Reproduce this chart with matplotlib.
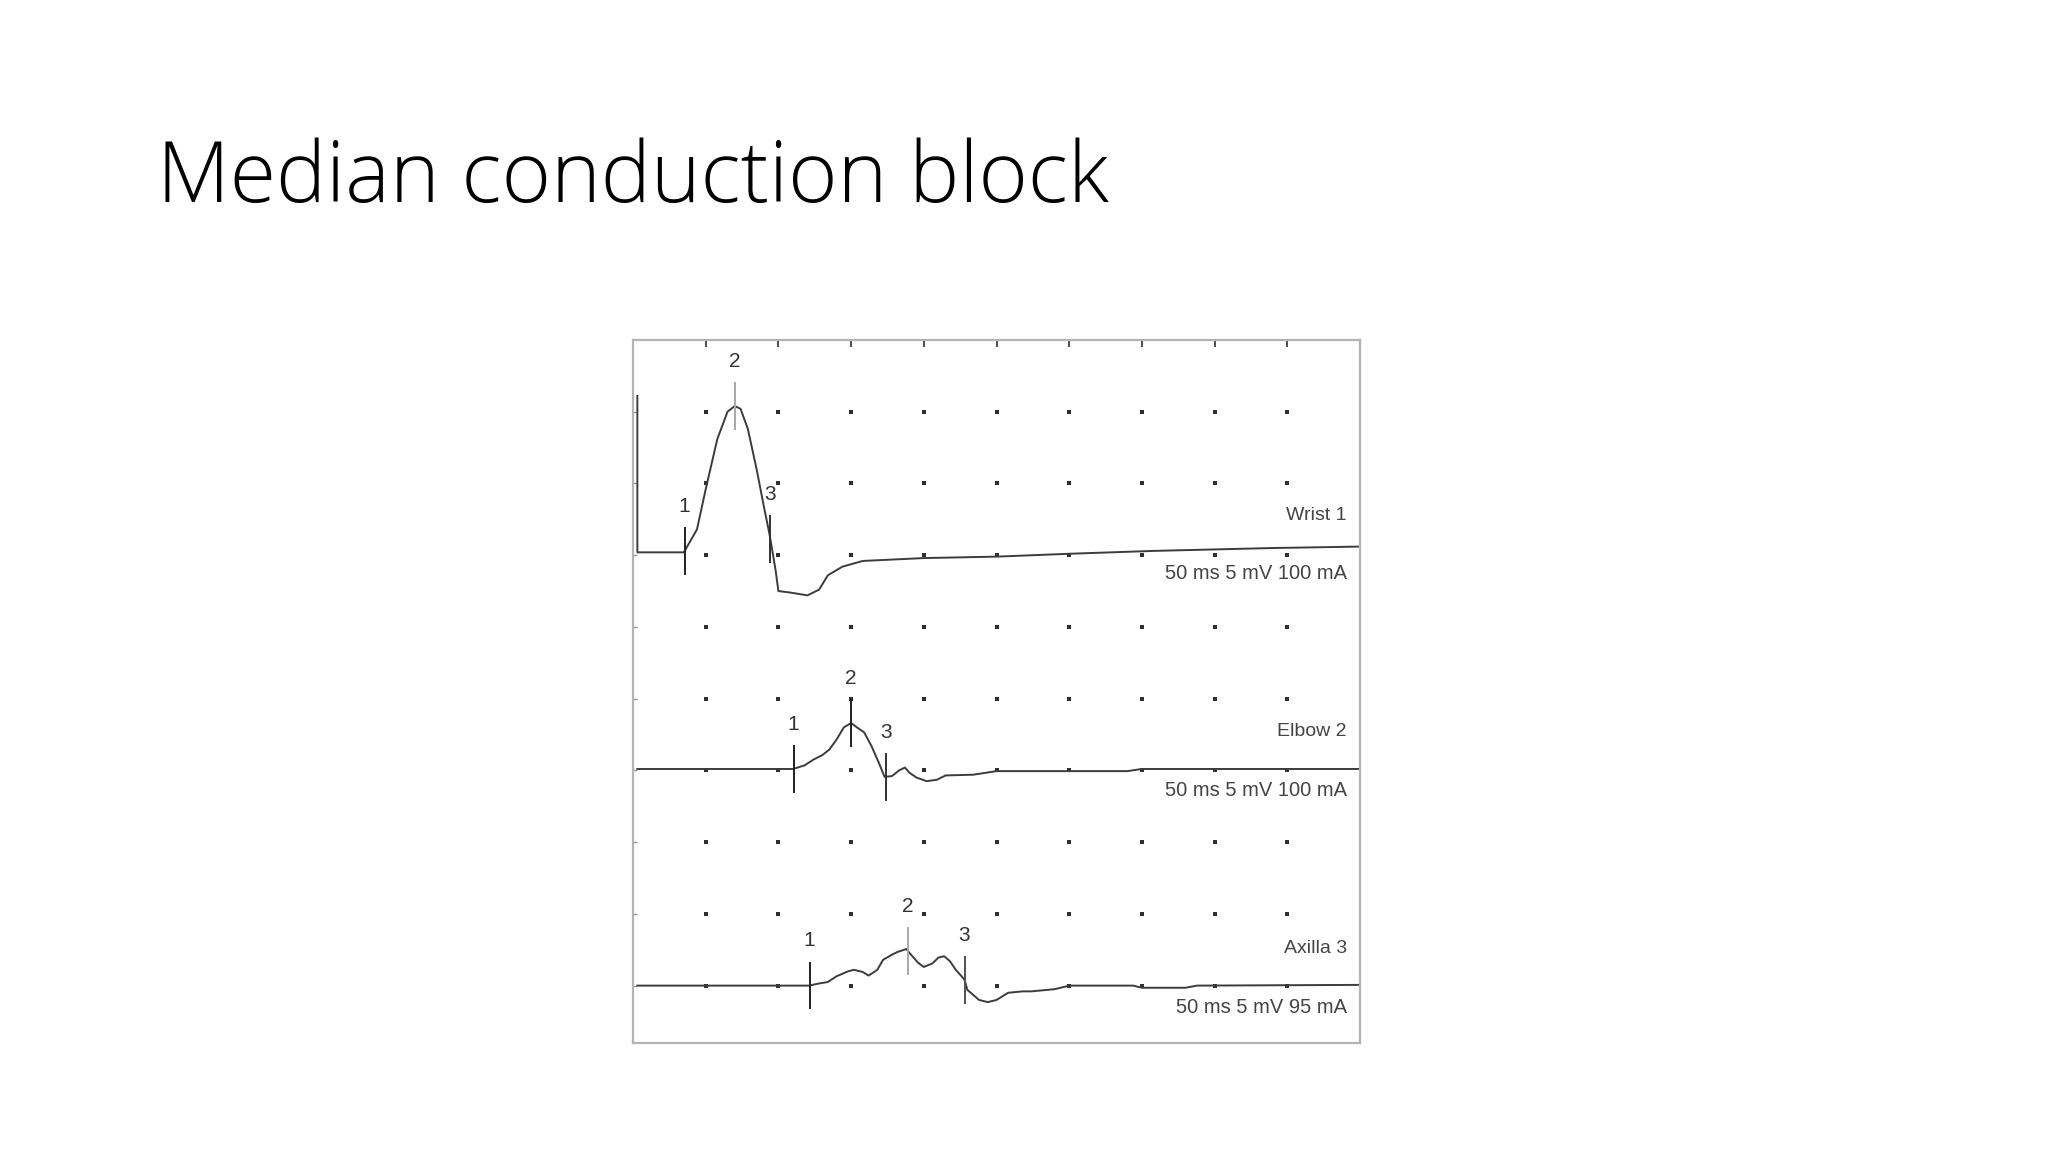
import numpy as np
import matplotlib
matplotlib.use("Agg")
import matplotlib.pyplot as plt

# Median nerve motor study, 5 ms/div and 5 mV/div, 50 ms sweep
# time in ms, amplitude in mV relative to each trace's baseline
wrist_t = [0.3, 0.3, 3.5, 4.4, 5.0, 5.8, 6.5, 7.0, 7.4, 7.9, 8.5, 9.0, 9.4, 9.8, 10.0,
           10.8, 12.0, 12.8, 13.4, 14.4, 15.8, 20.0, 25.0, 30.0, 35.8, 44.0, 49.9]
wrist_v = [10.9, 0.0, 0.0, 1.6, 4.4, 7.9, 9.8, 10.2, 10.0, 8.6, 5.8, 3.2, 1.2, -1.2, -2.7,
           -2.8, -3.0, -2.6, -1.6, -1.0, -0.6, -0.4, -0.3, -0.1, 0.1, 0.3, 0.4]

elbow_t = [0.3, 11.0, 11.8, 12.4, 13.0, 13.5, 14.0, 14.5, 15.0, 15.4, 15.9, 16.4, 16.9,
           17.3, 17.8, 18.3, 18.7, 19.0, 19.5, 20.2, 20.9, 21.5, 23.4, 25.0, 34.0, 35.0, 49.9]
elbow_v = [0.0, 0.0, 0.25, 0.65, 0.95, 1.35, 2.05, 2.9, 3.2, 2.9, 2.55, 1.6, 0.45,
           -0.55, -0.5, -0.1, 0.1, -0.25, -0.6, -0.85, -0.75, -0.45, -0.4, -0.15, -0.15, 0.0, 0.0]

axilla_t = [0.3, 12.1, 12.8, 13.4, 14.0, 14.8, 15.2, 15.8, 16.2, 16.8, 17.2, 17.8, 18.2,
            18.8, 19.0, 19.6, 20.0, 20.6, 21.0, 21.4, 21.8, 22.2, 22.6, 22.8, 23.0, 23.8,
            24.4, 25.0, 25.8, 26.8, 27.4, 29.0, 30.0, 34.4, 35.0, 38.0, 38.8, 49.9]
axilla_v = [0.0, 0.0, 0.15, 0.25, 0.65, 1.0, 1.1, 0.95, 0.7, 1.1, 1.8, 2.15, 2.35,
            2.55, 2.3, 1.6, 1.3, 1.55, 1.95, 2.05, 1.7, 1.1, 0.65, 0.4, -0.3, -1.0,
            -1.15, -1.0, -0.5, -0.4, -0.4, -0.25, 0.0, 0.0, -0.15, -0.15, 0.0, 0.05]

# latency cursors 1, 2, 3 (ms)
wrist_marks = [3.55, 7.0, 9.45]
elbow_marks = [11.05, 15.0, 17.4]
axilla_marks = [12.15, 18.9, 22.8]

site_names = ["Wrist 1", "Elbow 2", "Axilla 3"]
settings = ["50 ms 5 mV 100 mA", "50 ms 5 mV 100 mA", "50 ms 5 mV 95 mA"]

W, H = 2048, 1152
fig = plt.figure(figsize=(W / 100, H / 100), dpi=100)
fig.patch.set_facecolor("white")

# slide title
title = fig.text(157 / W, 1 - 202 / H, "Median conduction block", fontsize=66,
                 family=["Open Sans", "DejaVu Sans"], weight="light", color="black",
                 ha="left", va="baseline")
fig.canvas.draw()
bb = title.get_window_extent()
title.set_fontsize(66 * 952 / bb.width)

# the recording panel
ax = fig.add_axes([633 / W, 1 - 1043 / H, 727 / W, 703 / H])
ax.set_xlim(0, 50)
ax.set_ylim(-49, 0)
ax.set_xticks([])
ax.set_yticks([])
for s in ax.spines.values():
    s.set_color("#b4b4b4")
    s.set_linewidth(1.6)

# grid dots every division
gx, gy = np.meshgrid(np.arange(5, 50, 5), np.arange(-5, -46, -5))
ax.plot(gx.ravel(), gy.ravel(), ls="none", marker="s", ms=2.2, color="#303030", mew=0)
ax.plot(np.arange(5, 50, 5), np.full(9, -0.25), ls="none", marker="|", ms=5,
        color="#303030", mew=1.2)
ax.plot(np.full(9, 0.15), np.arange(-5, -46, -5), ls="none", marker="_", ms=3,
        color="#909090", mew=1.0)

baselines = [-14.8, -29.9, -45.0]
traces = [(wrist_t, wrist_v), (elbow_t, elbow_v), (axilla_t, axilla_v)]
marks = [wrist_marks, elbow_marks, axilla_marks]
mark_colors = [["#202020", "#a8a8a8", "#303030"],
               ["#202020", "#202020", "#303030"],
               ["#202020", "#a8a8a8", "#505050"]]

lab_font = ["Liberation Sans", "DejaVu Sans"]
for i in range(3):
    t, v = traces[i]
    y = np.array(v) + baselines[i]
    ax.plot(t, y, color="#3c3c3c", lw=1.4, solid_joinstyle="round")
    for k, m in enumerate(marks[i]):
        yc = np.interp(m, t, y)
        ax.plot([m, m], [yc - 1.6, yc + 1.6], color=mark_colors[i][k], lw=1.4)
        ax.text(m, yc + 3.1, str(k + 1), fontsize=15, family=lab_font,
                color="#333333", ha="center", va="center")
    ax.text(49.1, baselines[i] + 2.6, site_names[i], fontsize=14, family=lab_font,
            color="#444444", ha="right", va="center")
    ax.text(49.1, baselines[i] - 1.5, settings[i], fontsize=14.5, family=lab_font,
            color="#444444", ha="right", va="center")

fig.savefig("out.png", dpi=100, facecolor="white")
